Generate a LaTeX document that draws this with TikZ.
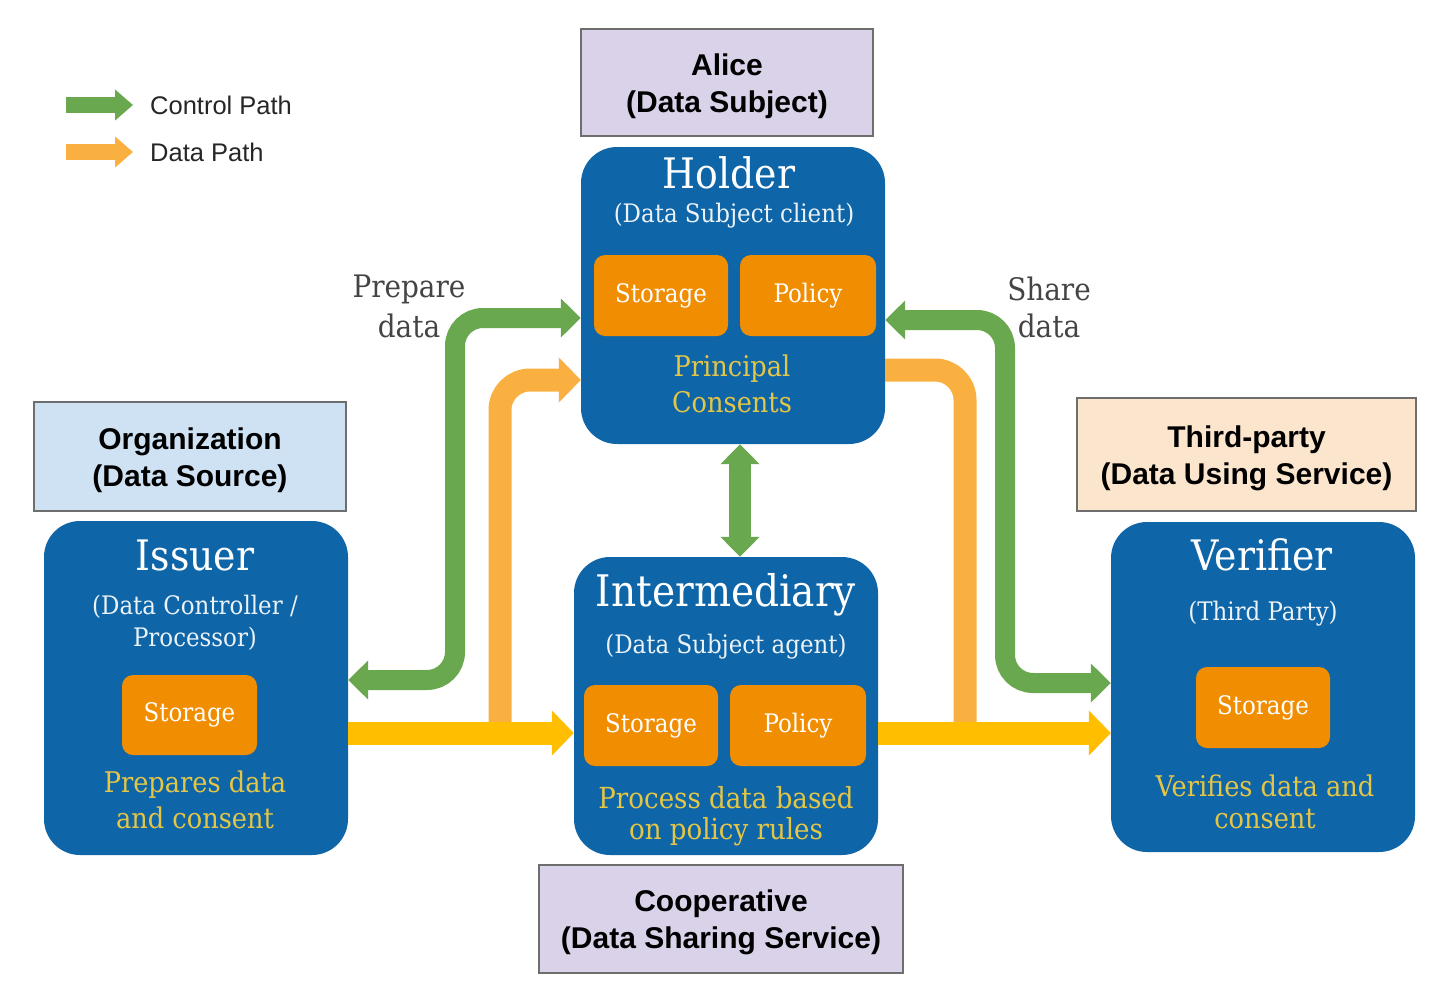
\documentclass[tikz,border=0pt]{standalone}
\usepackage{fontspec}
\setmainfont{DejaVu Serif Condensed}
\newfontfamily\sansf{Liberation Sans}
\usetikzlibrary{arrows.meta}
\definecolor{boxblue}{RGB}{14,101,168}
\definecolor{storeorange}{RGB}{240,141,0}
\definecolor{txtyellow}{RGB}{228,198,70}
\definecolor{cgreen}{RGB}{106,168,79}
\definecolor{dorange}{RGB}{250,176,64}
\definecolor{dyellow}{RGB}{255,190,0}
\definecolor{lav}{RGB}{217,210,233}
\definecolor{lblue}{RGB}{207,226,243}
\definecolor{peach}{RGB}{252,229,205}
\definecolor{bordergray}{RGB}{110,110,110}
\definecolor{labelgray}{RGB}{68,68,68}
\newcommand\fsz[1]{\fontsize{#1}{#1}\selectfont}
\begin{document}
\begin{tikzpicture}[x=1pt,y=-1pt,
  bluebox/.style={fill=boxblue, rounded corners=36pt, inner sep=0pt},
  storebox/.style={fill=storeorange, rounded corners=11pt, inner sep=0pt,
     text=white, font=\fsz{25.5}},
  rolebox/.style={draw=bordergray, line width=1.5pt, inner sep=0pt},
  roletxt/.style={inner sep=0pt, align=center, font=\sansf\bfseries\fsz{30}, text=black},
  titletxt/.style={text=white, font=\fsz{42}, inner sep=0pt},
  subtxt/.style={text=white!92!boxblue, font=\fsz{25.5}, inner sep=0pt},
  yeltxt/.style={text=txtyellow, font=\fsz{28.5}, inner sep=0pt},
  sidelabel/.style={text=labelgray, font=\fsz{31}, inner sep=0pt, align=center},
  ctrl/.style={draw=cgreen, line width=20pt, rounded corners=28pt},
  dpath/.style={draw=dorange, line width=23pt, rounded corners=30pt},
  ypath/.style={draw=dyellow, line width=23pt},
  gtip/.tip={Triangle[length=20pt,width=38pt]},
  otip/.tip={Triangle[length=22pt,width=44pt]},
  legtxt/.style={font=\sansf\fsz{25.5}, text=black!85, anchor=west, inner sep=0pt}
]
\useasboundingbox (0,0) rectangle (1442,1004);

% legend
\coordinate (lg1) at (66,105); \coordinate (lg2) at (133,105);
\coordinate (lo1) at (66,152); \coordinate (lo2) at (133,152);
\draw[draw=cgreen, line width=16pt, -{Triangle[length=18pt,width=30pt]}] (lg1) -- (lg2);
\draw[draw=dorange, line width=16pt, -{Triangle[length=18pt,width=30pt]}] (lo1) -- (lo2);
\node[legtxt] (lgt) at (150,105) {Control Path};
\node[legtxt] (lot) at (150,152) {Data Path};

% role boxes
\node[rolebox, fill=lav, minimum width=292pt, minimum height=107pt] (alice) at (727,82.5) {};
\node[roletxt] (alicet) at ([yshift=-3.5pt]alice.center) {Alice\\[7pt](Data Subject)};
\node[rolebox, fill=lblue, minimum width=312pt, minimum height=109pt] (org) at (190,456.5) {};
\node[roletxt] (orgt) at ([yshift=-3.5pt]org.center) {Organization\\[7pt](Data Source)};
\node[rolebox, fill=lav, minimum width=364pt, minimum height=108pt] (coop) at (721,919) {};
\node[roletxt] (coopt) at ([yshift=-3.5pt]coop.center) {Cooperative\\[7pt](Data Sharing Service)};
\node[rolebox, fill=peach, minimum width=339pt, minimum height=113pt] (third) at (1246.5,454.5) {};
\node[roletxt] (thirdt) at ([yshift=-3.5pt]third.center) {Third-party\\[7pt](Data Using Service)};

% blue boxes
\node[bluebox, minimum width=304pt, minimum height=297pt] (holder) at (733,295.5) {};
\node[bluebox, minimum width=304pt, minimum height=334pt] (issuer) at (196,688) {};
\node[bluebox, minimum width=304pt, minimum height=298pt] (inter) at (726,706) {};
\node[bluebox, minimum width=304pt, minimum height=330pt] (verifier) at (1263,687) {};

% holder contents
\node[titletxt] (holdt) at (729,173) {Holder};
\node[subtxt] (holds) at (734,216) {(Data Subject client)};
\node[storebox, minimum width=134pt, minimum height=81pt] (hstore) at (661,295.5) {Storage};
\node[storebox, minimum width=136pt, minimum height=81pt] (hpol) at (808,295.5) {Policy};
\node[yeltxt] (hy1) at (732,369) {Principal};
\node[yeltxt] (hy2) at (732,402) {Consents};

% issuer contents
\node[titletxt] (isst) at (195,555) {Issuer};
\node[subtxt] (isss1) at (195,607) {(Data Controller /};
\node[subtxt] (isss2) at (195,639) {Processor)};
\node[storebox, minimum width=135pt, minimum height=80pt] (istore) at (189.5,715) {Storage};
\node[yeltxt] (iy1) at (195,785) {Prepares data};
\node[yeltxt] (iy2) at (195,818) {and consent};

% intermediary contents
\node[titletxt, font=\fsz{43.5}] (intt) at (726,595) {Intermediary};
\node[subtxt] (ints) at (726,647) {(Data Subject agent)};
\node[storebox, minimum width=134pt, minimum height=81pt] (mstore) at (651,725.5) {Storage};
\node[storebox, minimum width=136pt, minimum height=81pt] (mpol) at (798,725.5) {Policy};
\node[yeltxt, font=\fsz{29}] (my1) at (726,798) {Process data based};
\node[yeltxt, font=\fsz{29}] (my2) at (726,832) {on policy rules};

% verifier contents
\node[titletxt] (vert) at (1262,555) {Verifier};
\node[subtxt] (vers) at (1263,614) {(Third Party)};
\node[storebox, minimum width=134pt, minimum height=81pt] (vstore) at (1263,707.5) {Storage};
\node[yeltxt] (vy1) at (1265,786) {Verifies data and};
\node[yeltxt] (vy2) at (1265,819) {consent};

% side labels
\node[sidelabel] (prep1) at (409,289) {Prepare};
\node[sidelabel] (prep2) at (409,326) {data};
\node[sidelabel] (share1) at (1049,289) {Share};
\node[sidelabel] (share2) at (1049,326) {data};

% connectors
\coordinate (gla) at (455,680); \coordinate (glb) at (455,318);
\coordinate (ola) at (500,733); \coordinate (olb) at (500,380);
\coordinate (gv) at (740,0);
\coordinate (gra) at (1005,320); \coordinate (grb) at (1005,683);
\coordinate (ora) at (965,370); \coordinate (orb) at (965,733);

\draw[ctrl, gtip-gtip] (issuer.east |- gla) -- (gla) -- (glb) -- (holder.west |- glb);
\draw[dpath, -otip] (ola) -- (olb) -- (holder.west |- olb);
\draw[ypath, -otip] (issuer.east |- ola) -- (inter.west |- ola);
\draw[draw=cgreen, line width=22pt, gtip-gtip] (holder.south -| gv) -- (inter.north -| gv);
\draw[ctrl, gtip-gtip] (holder.east |- gra) -- (gra) -- (grb) -- (verifier.west |- grb);
\draw[dpath] (holder.east |- ora) -- (ora) -- (orb);
\draw[ypath, -otip] (inter.east |- orb) -- (verifier.west |- orb);
\end{tikzpicture}
\end{document}
